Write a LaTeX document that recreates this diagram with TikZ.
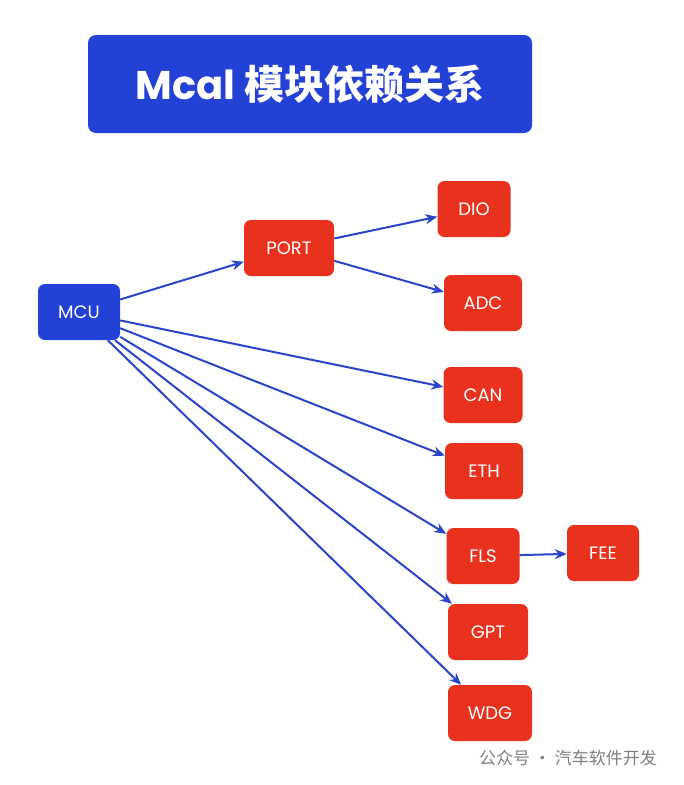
\documentclass[tikz,border=0pt]{standalone}
\usepackage{fontspec}
\setmainfont{Poppins}
\newfontfamily\cjk{Noto Sans CJK SC}
\usetikzlibrary{arrows.meta}
\definecolor{tblue}{HTML}{2441D6}
\definecolor{tred}{HTML}{E8321E}
\definecolor{lblue}{HTML}{2A45C8}
\tikzset{
 box/.style={fill=tred,rounded corners=7pt,text=white,minimum height=56pt,inner sep=0pt,font=\fontsize{18}{20}\selectfont},
 bbox/.style={box,fill=tblue},
 arr/.style={draw=lblue,line width=2pt,-{Stealth[length=12pt,width=10pt]}}
}
\begin{document}
\begin{tikzpicture}[x=1pt,y=-1pt]
\useasboundingbox (0,0) rectangle (684,785);
\fill[white] (0,0) rectangle (684,785);
\node[fill=tblue,rounded corners=8pt,minimum width=444pt,minimum height=98pt,text=white] (title) at (310,84)
 {\fontsize{40}{44}\selectfont\bfseries Mcal {\cjk\bfseries 模块依赖关系}};
\node[bbox,minimum width=82pt] (mcu) at (79,312) {MCU};
\node[box,minimum width=90pt] (port) at (289,248) {PORT};
\node[box,minimum width=73pt] (dio) at (474,209) {DIO};
\node[box,minimum width=78pt] (adc) at (483,303) {ADC};
\node[box,minimum width=79pt] (can) at (483,395) {CAN};
\node[box,minimum width=78pt] (eth) at (484,471) {ETH};
\node[box,minimum width=73pt] (fls) at (483,556) {FLS};
\node[box,minimum width=72pt] (fee) at (603,553) {FEE};
\node[box,minimum width=80pt] (gpt) at (488,632) {GPT};
\node[box,minimum width=84pt] (wdg) at (490,713) {WDG};
\draw[arr] (mcu) -- (port);
\draw[arr] (port) -- (dio);
\draw[arr] (port) -- (adc);
\draw[arr] (mcu) -- (can);
\draw[arr] (mcu) -- (eth);
\draw[arr] (mcu) -- (fls);
\draw[arr] (mcu) -- (gpt);
\draw[arr] (mcu) -- (wdg);
\draw[arr] (fls) -- (fee);
\node[text=gray,font=\cjk\fontsize{17}{19}\selectfont] (wm) at (568,758) {公众号 · 汽车软件开发};
\end{tikzpicture}
\end{document}
